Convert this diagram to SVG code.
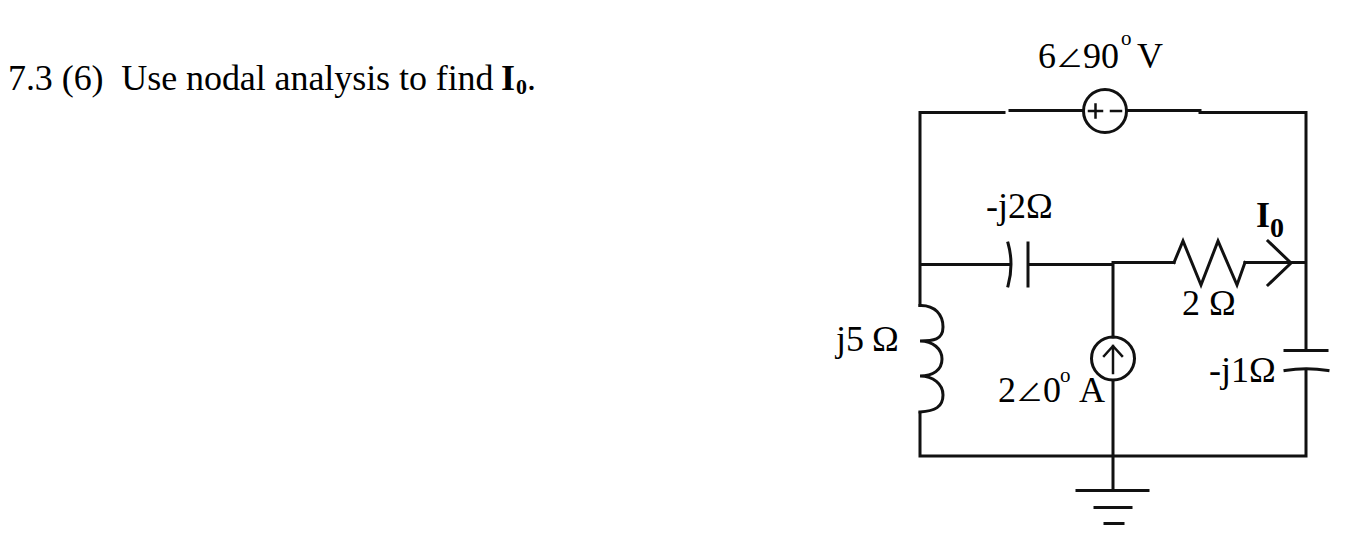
<svg xmlns="http://www.w3.org/2000/svg" width="1352" height="544" viewBox="0 0 1352 544">
<style>
text{font-family:"Liberation Serif","DejaVu Serif",serif;font-size:36px;fill:#000}
.b{font-weight:bold}
.a{font-family:"Noto Sans CJK SC","Liberation Serif",serif;font-size:27px}
.d{font-size:21px}
.w{fill:none;stroke:#111;stroke-width:3;stroke-linecap:square;stroke-linejoin:miter}
.t{stroke-width:2.5}
</style>
<rect width="1352" height="544" fill="#fff"/>
<g id="title"><text x="8" y="90" letter-spacing="-0.07" xml:space="preserve">7.3 (6)  Use nodal analysis to find <tspan class="b" x="501">I</tspan><tspan class="b" font-size="22" x="516" dy="4">0</tspan><tspan x="527" dy="-4">.</tspan></text></g>
<g id="connectors">
<path class="w" d="M1004 112.500H920V305.500M1010 110.500H1083M1127 110.500H1200V112.500H1306V350M920 413V456H1306V370M921 264.500H1010M1029 264.500H1113M1113 262.500H1174M1113 264V337M1113 381V490M1245 262.500H1290M1291 262.500H1306"/>
</g>
<g id="voltage-source">
<circle class="w" cx="1105" cy="111" r="21.500"/>
<path class="w t" d="M1089 111H1102M1095.500 104.500V117.500M1111 111H1121"/>
<text x="1038" y="68">6</text><text class="a" x="1056" y="68">∠</text><text x="1083" y="68">90</text><text class="d" x="1121" y="45">o</text><text x="1137" y="68">V</text>
</g>
<g id="capacitor-j2">
<path class="w" d="M1008 243Q1014 264 1008 286"/><path class="w" d="M1028 243V286"/>
<text x="986" y="218">-j2Ω</text>
</g>
<g id="resistor">
<path class="w" d="M1174 262.500L1183 241L1201 285L1218 241L1237 285L1245 262.500"/>
<path class="w" d="M1268 241L1291 263L1268 285"/>
<text x="1182" y="315">2 Ω</text>
</g>
<g id="current-label"><text class="b" x="1256" y="227">I<tspan font-size="28" dy="10">0</tspan></text></g>
<g id="inductor">
<path class="w" d="M920 305.500C935 305 943 315 943 327C943 340 933 341 920 341C933 341 942 349 942 359C942 370 933 376 920 376C933 376 943 384 943 395C943 407 935 411 920 412"/>
<text x="836" y="351">j5</text><text x="872" y="351">Ω</text>
</g>
<g id="current-source">
<circle class="w" cx="1113" cy="358.500" r="21.500"/>
<path class="w t" d="M1113 373V346M1104 356L1113 346L1122 356"/>
<text x="998" y="402">2</text><text class="a" x="1016" y="402">∠</text><text x="1043" y="402">0</text><text class="d" x="1060" y="382">o</text><text x="1079" y="402">A</text>
</g>
<g id="capacitor-j1">
<path class="w" d="M1285 350.500H1327"/><path class="w" d="M1285 370.500Q1306 367 1328 370.500"/>
<text x="1209" y="382">-j1Ω</text>
</g>
<g id="ground">
<path class="w" d="M1077 490.500H1148M1095 507.500H1131M1105 523.500H1123"/>
</g>
</svg>
